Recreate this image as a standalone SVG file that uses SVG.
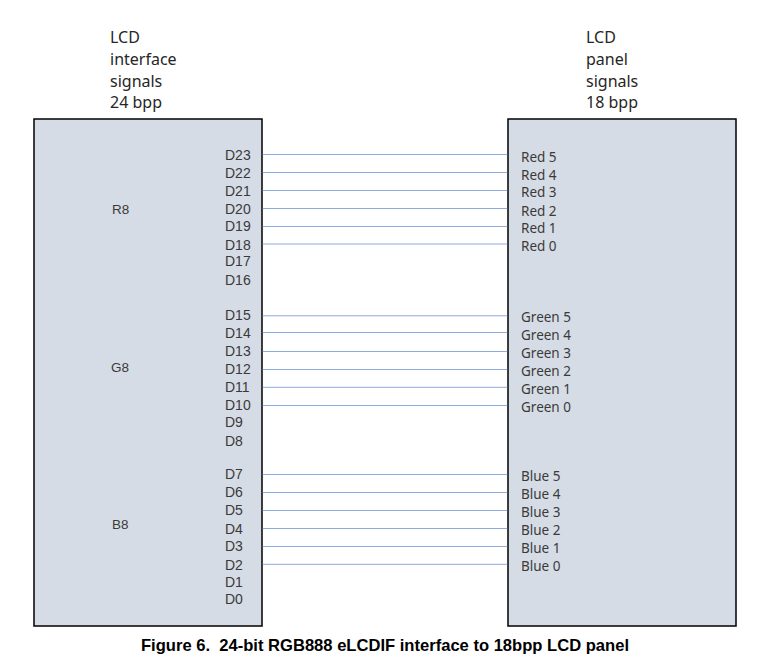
<svg xmlns="http://www.w3.org/2000/svg" width="759" height="663" viewBox="0 0 759 663">
<style>
.box{fill:#d6dce5;stroke:#000;stroke-width:1.5}
.hd{font-family:"Noto Sans","Liberation Sans",sans-serif;font-size:16px;fill:#262626}
.dl{font-family:"Liberation Sans",Arial,sans-serif;font-size:14px;fill:#3a3a3a}
.gl{font-family:"Liberation Sans",Arial,sans-serif;font-size:13.5px;fill:#3a3a3a}
.pl{font-family:"Noto Sans","Liberation Sans",sans-serif;font-size:13.5px;fill:#3a3a3a}
.cap{font-family:"Liberation Sans",Arial,sans-serif;font-size:16.5px;font-weight:bold;fill:#000;white-space:pre}
.wire{stroke:#8faadc;stroke-width:1;fill:none}
</style>
<rect width="759" height="663" fill="#fff"/>
<g id="header-left">
<text class="hd" x="110" y="43">LCD</text>
<text class="hd" x="110" y="65">interface</text>
<text class="hd" x="110" y="86.5">signals</text>
<text class="hd" x="110" y="108">24 bpp</text>
</g>
<g id="header-right">
<text class="hd" x="586" y="43">LCD</text>
<text class="hd" x="586" y="65">panel</text>
<text class="hd" x="586" y="86.5">signals</text>
<text class="hd" x="586" y="108">18 bpp</text>
</g>
<g id="lcd-interface">
<rect class="box" x="34" y="119" width="228" height="507"/>
<text class="gl" x="112" y="214">R8</text>
<text class="gl" x="111" y="372">G8</text>
<text class="gl" x="112" y="529">B8</text>
<text class="dl" x="225" y="160">D23</text>
<text class="dl" x="225" y="178">D22</text>
<text class="dl" x="225" y="196">D21</text>
<text class="dl" x="225" y="214">D20</text>
<text class="dl" x="225" y="231">D19</text>
<text class="dl" x="225" y="250">D18</text>
<text class="dl" x="225" y="266">D17</text>
<text class="dl" x="225" y="285">D16</text>
<text class="dl" x="225" y="320">D15</text>
<text class="dl" x="225" y="338">D14</text>
<text class="dl" x="225" y="356">D13</text>
<text class="dl" x="225" y="374">D12</text>
<text class="dl" x="225" y="392">D11</text>
<text class="dl" x="225" y="410">D10</text>
<text class="dl" x="225" y="427">D9</text>
<text class="dl" x="225" y="446">D8</text>
<text class="dl" x="225" y="479">D7</text>
<text class="dl" x="225" y="497">D6</text>
<text class="dl" x="225" y="515">D5</text>
<text class="dl" x="225" y="534">D4</text>
<text class="dl" x="225" y="551">D3</text>
<text class="dl" x="225" y="570">D2</text>
<text class="dl" x="225" y="587">D1</text>
<text class="dl" x="225" y="604">D0</text>
</g>
<g id="lcd-panel">
<rect class="box" x="508" y="119" width="228" height="507"/>
<text class="pl" x="521" y="161.5">Red 5</text>
<text class="pl" x="521" y="179.5">Red 4</text>
<text class="pl" x="521" y="197">Red 3</text>
<text class="pl" x="521" y="215.5">Red 2</text>
<text class="pl" x="521" y="233">Red 1</text>
<text class="pl" x="521" y="251">Red 0</text>
<text class="pl" x="521" y="322">Green 5</text>
<text class="pl" x="521" y="340">Green 4</text>
<text class="pl" x="521" y="357.5">Green 3</text>
<text class="pl" x="521" y="376">Green 2</text>
<text class="pl" x="521" y="393.5">Green 1</text>
<text class="pl" x="521" y="412">Green 0</text>
<text class="pl" x="521" y="481">Blue 5</text>
<text class="pl" x="521" y="499">Blue 4</text>
<text class="pl" x="521" y="516.5">Blue 3</text>
<text class="pl" x="521" y="535">Blue 2</text>
<text class="pl" x="521" y="552.5">Blue 1</text>
<text class="pl" x="521" y="571">Blue 0</text>
</g>
<g id="connectors">
<line class="wire" x1="262.75" y1="154.5" x2="507.25" y2="154.5"/>
<line class="wire" x1="262.75" y1="172.5" x2="507.25" y2="172.5"/>
<line class="wire" x1="262.75" y1="190.5" x2="507.25" y2="190.5"/>
<line class="wire" x1="262.75" y1="208.5" x2="507.25" y2="208.5"/>
<line class="wire" x1="262.75" y1="226.5" x2="507.25" y2="226.5"/>
<line class="wire" x1="262.75" y1="244" x2="507.25" y2="244"/>
<line class="wire" x1="262.75" y1="315.8" x2="507.25" y2="315.8"/>
<line class="wire" x1="262.75" y1="332.5" x2="507.25" y2="332.5"/>
<line class="wire" x1="262.75" y1="351.5" x2="507.25" y2="351.5"/>
<line class="wire" x1="262.75" y1="369.5" x2="507.25" y2="369.5"/>
<line class="wire" x1="262.75" y1="387.3" x2="507.25" y2="387.3"/>
<line class="wire" x1="262.75" y1="405.5" x2="507.25" y2="405.5"/>
<line class="wire" x1="262.75" y1="474.5" x2="507.25" y2="474.5"/>
<line class="wire" x1="262.75" y1="492.5" x2="507.25" y2="492.5"/>
<line class="wire" x1="262.75" y1="510.5" x2="507.25" y2="510.5"/>
<line class="wire" x1="262.75" y1="528.5" x2="507.25" y2="528.5"/>
<line class="wire" x1="262.75" y1="546.5" x2="507.25" y2="546.5"/>
<line class="wire" x1="262.75" y1="564.3" x2="507.25" y2="564.3"/>
</g>
<g id="caption">
<text class="cap" x="141" y="651" textLength="488" lengthAdjust="spacingAndGlyphs">Figure 6.  24-bit RGB888 eLCDIF interface to 18bpp LCD panel</text>
</g>
</svg>
